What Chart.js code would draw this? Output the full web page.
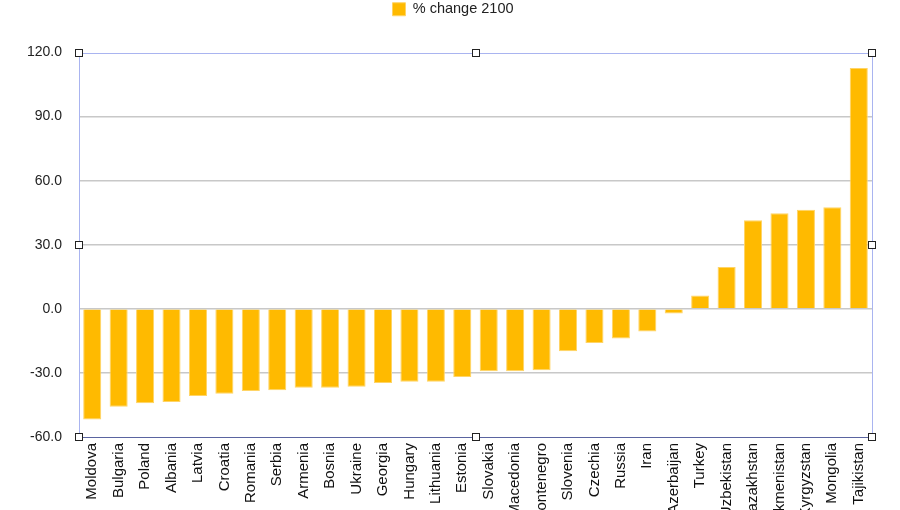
<!DOCTYPE html>
<html>
<head>
<meta charset="utf-8">
<script src="https://cdn.jsdelivr.net/npm/chart.js@4.4.1/dist/chart.umd.min.js"></script>
<style>
  html, body { margin: 0; padding: 0; background: #fff; overflow: hidden; }
  #wrap { width: 900px; height: 510px; position: relative; }
</style>
</head>
<body>
<div id="wrap"><canvas id="c" width="900" height="510"></canvas></div>
<script>
const categories = ["Moldova","Bulgaria","Poland","Albania","Latvia","Croatia","Romania","Serbia","Armenia","Bosnia","Ukraine","Georgia","Hungary","Lithuania","Estonia","Slovakia","Macedonia","Montenegro","Slovenia","Czechia","Russia","Iran","Azerbaijan","Turkey","Uzbekistan","Kazakhstan","Turkmenistan","Kyrgyzstan","Mongolia","Tajikistan"];
const change2100 = [-51.8,-45.8,-44.2,-43.6,-40.8,-39.8,-38.5,-38.1,-37.0,-37.0,-36.5,-34.7,-34.1,-34.1,-31.9,-29.2,-29.2,-28.7,-19.9,-16.0,-13.9,-10.6,-2.2,6.3,19.6,41.5,44.8,46.4,47.6,112.7];
const seriesName = "% change 2100";
const yMin = -60, yMax = 120, yStep = 30;

const legendGap = {
  id: 'legendGap',
  beforeInit(chart) {
    const orig = chart.legend.fit;
    chart.legend.fit = function () {
      orig.bind(chart.legend)();
      this.height += 26;
    };
  },
  afterLayout(chart) {
    chart.legend.left += 17;
    chart.legend.right += 17;
  }
};

const frame = {
  id: 'frame',
  afterDraw(chart) {
    const a = chart.chartArea, ctx = chart.ctx;
    ctx.save();
    ctx.lineWidth = 1;
    ctx.strokeStyle = '#a9b4f0';
    ctx.beginPath();
    ctx.moveTo(Math.round(a.left) + 0.5, a.bottom);
    ctx.lineTo(Math.round(a.left) + 0.5, a.top);
    ctx.moveTo(a.left, Math.round(a.top) + 0.5);
    ctx.lineTo(a.right, Math.round(a.top) + 0.5);
    ctx.moveTo(Math.round(a.right) + 0.5, a.top);
    ctx.lineTo(Math.round(a.right) + 0.5, a.bottom);
    ctx.stroke();
    ctx.strokeStyle = '#5a64a0';
    ctx.beginPath();
    ctx.moveTo(a.left, Math.round(a.bottom) + 0.5);
    ctx.lineTo(a.right, Math.round(a.bottom) + 0.5);
    ctx.stroke();
    const mx = (a.left + a.right) / 2, my = (a.top + a.bottom) / 2;
    const pts = [[a.left,a.top],[mx,a.top],[a.right,a.top],[a.left,my],[a.right,my],[a.left,a.bottom],[mx,a.bottom],[a.right,a.bottom]];
    ctx.fillStyle = '#fff';
    ctx.strokeStyle = '#222';
    pts.forEach(([x,y]) => {
      const px = Math.round(x) - 3.5, py = Math.round(y) - 3.5;
      ctx.fillRect(px, py, 7, 7);
      ctx.strokeRect(px, py, 7, 7);
    });
    ctx.restore();
  }
};

new Chart(document.getElementById('c'), {
  type: 'bar',
  data: {
    labels: categories,
    datasets: [{
      label: seriesName,
      data: change2100,
      backgroundColor: '#ffba00',
      borderColor: '#ffd466',
      borderWidth: 1,
      barPercentage: 0.72,
      categoryPercentage: 0.95
    }]
  },
  options: {
    responsive: false,
    animation: false,
    devicePixelRatio: 1,
    layout: { padding: { top: 0, right: 28, left: 0, bottom: 0 } },
    plugins: {
      legend: {
        position: 'top',
        labels: {
          boxWidth: 13, boxHeight: 13, padding: 2,
          color: '#222',
          font: { family: 'Liberation Sans', size: 14.5 }
        }
      },
      tooltip: { enabled: false }
    },
    scales: {
      x: {
        grid: { display: false, drawTicks: false },
        border: { display: false },
        ticks: {
          autoSkip: false, maxRotation: 90, minRotation: 90,
          padding: 6, color: '#111',
          font: { family: 'Liberation Sans', size: 15 }
        },
        afterFit(axis) { axis.height = 73; }
      },
      y: {
        min: yMin, max: yMax,
        grid: {
          drawTicks: false,
          color: ctx => (ctx.tick && (ctx.tick.value === yMax || ctx.tick.value === yMin)) ? 'rgba(0,0,0,0)' : '#c8c8c8',
          lineWidth: 1.5
        },
        border: { display: false },
        ticks: {
          stepSize: yStep, padding: 17, color: '#222',
          font: { family: 'Liberation Sans', size: 14 },
          callback: v => Number(v).toFixed(1)
        },
        afterFit(axis) { axis.width = 79; }
      }
    }
  },
  plugins: [legendGap, frame]
});
</script>
</body>
</html>
